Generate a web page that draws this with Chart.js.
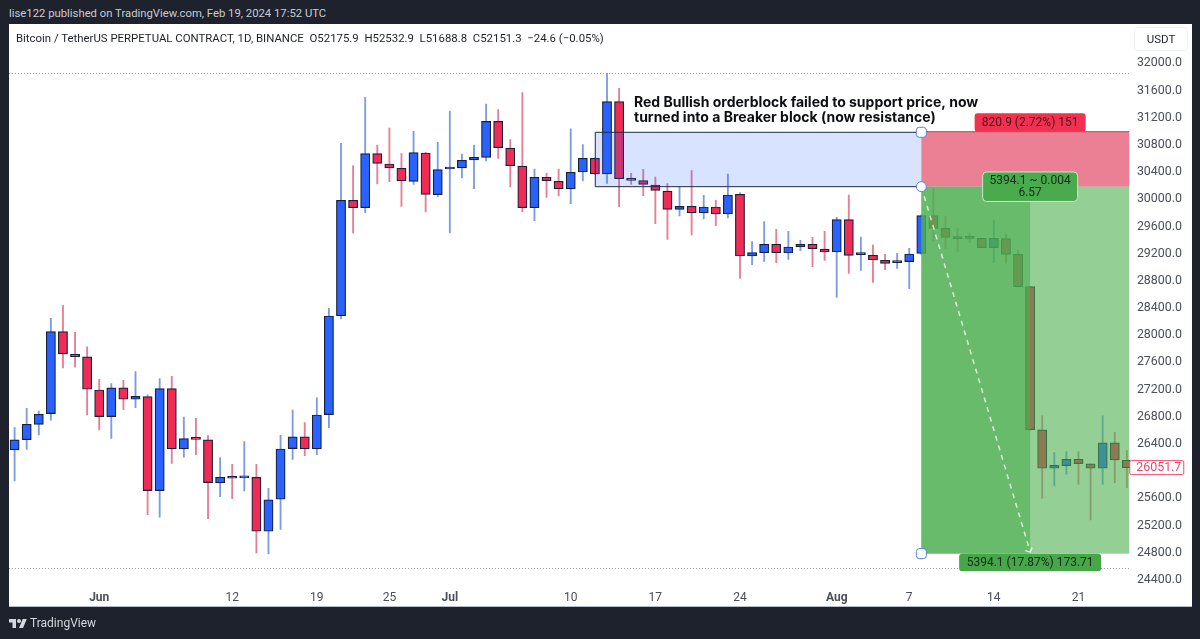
<!DOCTYPE html>
<html>
<head>
<meta charset="utf-8">
<title>BTCUSDT.P 1D</title>
<script src="https://cdn.jsdelivr.net/npm/chart.js@4"></script>
<style>
    html, body { margin: 0; padding: 0; background: #1e222d; width: 1200px; height: 639px; overflow: hidden; }
    .byline { position: absolute; left: 9px; top: 6px; color: #c9ccd3; font: 11.3px Roboto, sans-serif; line-height: 16px; white-space: nowrap; }
    .panel { position: absolute; left: 9px; top: 24px; width: 1183px; height: 583px; background: #fff; border-bottom: 1px solid #b8bcc4; box-sizing: border-box; }
    canvas { position: absolute; left: 0; top: 0; }
    .legend { position: absolute; left: 16px; top: 30px; color: #1d2026; font: 11.4px Roboto, sans-serif; line-height: 16px; white-space: pre; }
    .currency { position: absolute; left: 1134px; top: 27px; width: 52px; height: 22px; border: 1px solid #f0f1f3; border-radius: 4px; color: #1d2026; font: 11.5px Roboto, sans-serif; line-height: 22px; text-align: center; }
    .brand { position: absolute; left: 30px; top: 614px; color: #d5d8de; font: 12px Roboto, sans-serif; line-height: 18px; }
    .brand-logo { position: absolute; left: 9px; top: 617px; }
</style>
</head>
<body>
<div class="byline">lise122 published on TradingView.com, Feb 19, 2024 17:52 UTC</div>
<div class="panel"></div>
<canvas id="chart" width="1200" height="639"></canvas>
<div class="legend">Bitcoin / TetherUS PERPETUAL CONTRACT, 1D, BINANCE  O52175.9  H52532.9  L51688.8  C52151.3  −24.6 (−0.05%)</div>
<div class="currency">USDT</div>
<svg class="brand-logo" width="18" height="12" viewBox="0 0 36 24"><path fill="#d5d8de" d="M14 22H7V11H0V4h14v18zM28 22h-8l7.5-18h8L28 22z"/><circle fill="#d5d8de" cx="20" cy="8" r="4"/></svg>
<div class="brand">TradingView</div>
<script>
    const categories = [
        "May 25", "May 26", "May 27", "May 28", "May 29", "May 30", "May 31",
        "Jun 1", "Jun 2", "Jun 3", "Jun 4", "Jun 5", "Jun 6", "Jun 7", "Jun 8", "Jun 9", "Jun 10",
        "Jun 11", "Jun 12", "Jun 13", "Jun 14", "Jun 15", "Jun 16", "Jun 17", "Jun 18", "Jun 19", "Jun 20",
        "Jun 21", "Jun 22", "Jun 23", "Jun 24", "Jun 25", "Jun 26", "Jun 27", "Jun 28", "Jun 29", "Jun 30",
        "Jul 1", "Jul 2", "Jul 3", "Jul 4", "Jul 5", "Jul 6", "Jul 7", "Jul 8", "Jul 9", "Jul 10",
        "Jul 11", "Jul 12", "Jul 13", "Jul 14", "Jul 15", "Jul 16", "Jul 17", "Jul 18", "Jul 19", "Jul 20",
        "Jul 21", "Jul 22", "Jul 23", "Jul 24", "Jul 25", "Jul 26", "Jul 27", "Jul 28", "Jul 29", "Jul 30", "Jul 31",
        "Aug 1", "Aug 2", "Aug 3", "Aug 4", "Aug 5", "Aug 6", "Aug 7", "Aug 8", "Aug 9", "Aug 10",
        "Aug 11", "Aug 12", "Aug 13", "Aug 14", "Aug 15", "Aug 16", "Aug 17", "Aug 18", "Aug 19", "Aug 20",
        "Aug 21", "Aug 22", "Aug 23", "Aug 24", "Aug 25"
    ];

    const opens = [
        26312, 26464, 26689, 26846, 28052, 27719, 27680, 27194, 26802, 27224,
        27057, 27096, 25713, 27214, 26326, 26478, 26459, 25826, 25900, 25900,
        25909, 25115, 25586, 26331, 26503, 26326, 26831, 28287, 29984, 29876,
        30671, 30519, 30455, 30264, 30681, 30068, 30445, 30460, 30578, 30617,
        31146, 30754, 30489, 29876, 30323, 30264, 30151, 30401, 30602, 30372,
        31436, 30288, 30273, 30210, 30121, 29852, 29896, 29798, 29886, 29783,
        30072, 29165, 29214, 29337, 29209, 29298, 29337, 29268, 29224, 29700,
        29185, 29175, 29101, 29067, 29082, 29204, 29759, 29572, 29440, 29440,
        29425, 29288, 29420, 29190, 28714, 26606, 26042, 26081, 26174, 26106,
        26042, 26415, 26160
    ];
    const highs = [
        26640, 26925, 26885, 28249, 28440, 28043, 27827, 27351, 27288, 27337,
        27464, 27121, 27361, 27395, 26797, 26777, 26522, 26199, 26101, 26434,
        26101, 25748, 26527, 26900, 26714, 27077, 28396, 30823, 30494, 31500,
        30798, 31048, 30671, 31000, 30690, 30837, 31298, 30666, 30798, 31401,
        31318, 30877, 31568, 30445, 30381, 30445, 31038, 30803, 30610, 31853,
        31632, 30381, 30440, 30327, 30229, 30185, 30421, 30058, 29984, 30372,
        30097, 29376, 29670, 29557, 29528, 29396, 29440, 29528, 29734, 30063,
        29445, 29327, 29190, 29204, 29278, 29770, 30161, 29744, 29572, 29499,
        29425, 29695, 29489, 29254, 28720, 26812, 26272, 26287, 26287, 26106,
        26812, 26572, 26302
    ];
    const lows = [
        25855, 26321, 26532, 26748, 27518, 27528, 26827, 26606, 26483, 26905,
        26934, 25360, 25321, 26115, 26204, 26243, 25301, 25625, 25596, 25708,
        24796, 24782, 25144, 26174, 26228, 26243, 26640, 28238, 29504, 29803,
        30224, 30259, 29896, 30220, 29812, 30038, 29504, 30313, 30156, 30563,
        30602, 30180, 29817, 29685, 30028, 30048, 29935, 30269, 30365, 30234,
        29891, 30220, 30053, 29641, 29410, 29754, 29474, 29710, 29611, 29724,
        28837, 29038, 29087, 29067, 29116, 29244, 29008, 29101, 28557, 28910,
        28954, 28778, 28964, 28984, 28685, 29190, 29391, 29278, 29229, 29362,
        29288, 29067, 29058, 28714, 26600, 25601, 25782, 25954, 25806, 25282,
        25806, 25831, 25757
    ];
    const closes = [
        26459, 26689, 26836, 28052, 27724, 27685, 27204, 26802, 27224, 27057,
        27101, 25713, 27214, 26326, 26478, 26468, 25831, 25909, 25895, 25905,
        25115, 25576, 26326, 26503, 26326, 26826, 28283, 29984, 29876, 30671,
        30529, 30460, 30269, 30686, 30072, 30435, 30455, 30573, 30617, 31146,
        30759, 30494, 29876, 30323, 30273, 30151, 30396, 30602, 30372, 31436,
        30303, 30278, 30220, 30131, 29852, 29896, 29798, 29886, 29783, 30063,
        29165, 29214, 29337, 29214, 29298, 29337, 29273, 29224, 29700, 29175,
        29190, 29106, 29057, 29072, 29195, 29759, 29572, 29440, 29420, 29425,
        29288, 29425, 29190, 28714, 26611, 26042, 26086, 26174, 26111, 26042,
        26415, 26165, 26052
    ];

    const priceTicks = [
        32000, 31600, 31200, 30800, 30400, 30000, 29600, 29200, 28800, 28400,
        28000, 27600, 27200, 26800, 26400, 25600, 25200, 24800, 24400
    ];
    const dateTickIndex = [7, 18, 25, 31, 36, 46, 53, 60, 68, 74, 81, 88];
    const dateTickText = ["Jun", "12", "19", "25", "Jul", "10", "17", "24", "Aug", "7", "14", "21"];
    const monthTicks = ["Jun", "Jul", "Aug"];

    const chartHigh = 31857;
    const chartLow = 24574;
    const lastPrice = 26051.7;

    const breakerBlock = { from: 48.03, to: 75, top: 30985, bottom: 30185 };
    const position = { from: 75, mid: 84, to: 92.2, stop: 30994, entry: 30185, target: 24786 };

    const annotationLines = [
        "Red Bullish orderblock failed to support price, now",
        "turned into a Breaker block (now resistance)"
    ];
    const stopLabel = "820.9 (2.72%) 151";
    const riskLabel = ["5394.1 ~ 0.004", "6.57"];
    const targetLabel = "5394.1 (17.87%) 173.71";

    const colors = {
        up: "#2962ff",
        down: "#f02c56",
        upWick: "#7c9ce4",
        downWick: "#e47f95",
        border: "#17203a",
        ink: "#131722",
        muted: "#4a4e57"
    };

    function isUp(i) {
        return closes[i] >= opens[i];
    }

    function pill(ctx, x, y, w, h, r, fill, stroke) {
        ctx.beginPath();
        ctx.roundRect(x, y, w, h, r);
        ctx.fillStyle = fill;
        ctx.fill();
        if (stroke) {
            ctx.strokeStyle = stroke;
            ctx.lineWidth = 1;
            ctx.stroke();
        }
    }

    function handle(ctx, x, y, rounded) {
        ctx.beginPath();
        if (rounded) {
            ctx.roundRect(x - 5, y - 5, 10, 10, 3);
        } else {
            ctx.arc(x, y, 5, 0, Math.PI * 2);
        }
        ctx.fillStyle = "#fff";
        ctx.fill();
        ctx.strokeStyle = "#5b7fd8";
        ctx.lineWidth = 1;
        ctx.stroke();
    }

    const dottedLines = {
        id: "dottedLines",
        beforeDatasetsDraw(chart) {
            const { ctx, scales: { x, y } } = chart;
            ctx.save();
            ctx.strokeStyle = "#9a9ea6";
            ctx.lineWidth = 1;
            ctx.setLineDash([1, 2]);
            [chartHigh, chartLow].forEach(price => {
                const py = Math.round(y.getPixelForValue(price)) + 0.5;
                ctx.beginPath();
                ctx.moveTo(9, py);
                ctx.lineTo(x.getPixelForValue(position.to), py);
                ctx.stroke();
            });
            ctx.restore();
        }
    };

    const drawings = {
        id: "drawings",
        afterDatasetsDraw(chart) {
            const { ctx, scales: { x, y } } = chart;
            const left = x.getPixelForValue(position.from);
            const mid = x.getPixelForValue(position.mid);
            const right = x.getPixelForValue(position.to);
            const stopY = y.getPixelForValue(position.stop);
            const entryY = y.getPixelForValue(position.entry);
            const targetY = y.getPixelForValue(position.target);
            const boxLeft = x.getPixelForValue(breakerBlock.from);
            const boxTop = y.getPixelForValue(breakerBlock.top);
            const boxBottom = y.getPixelForValue(breakerBlock.bottom);

            ctx.save();

            // breaker block
            ctx.fillStyle = "rgba(41, 98, 255, .18)";
            ctx.fillRect(boxLeft, boxTop, left - boxLeft, boxBottom - boxTop);
            ctx.strokeStyle = "#1f2a44";
            ctx.lineWidth = 1;
            ctx.beginPath();
            ctx.moveTo(left, boxTop);
            ctx.lineTo(boxLeft, boxTop);
            ctx.lineTo(boxLeft, boxBottom);
            ctx.lineTo(left, boxBottom);
            ctx.stroke();

            // long position zones
            ctx.fillStyle = "rgba(222, 50, 82, .62)";
            ctx.fillRect(left, stopY, right - left, entryY - stopY);
            ctx.strokeStyle = "#c8405c";
            ctx.beginPath();
            ctx.moveTo(left, stopY);
            ctx.lineTo(right, stopY);
            ctx.stroke();
            ctx.fillStyle = "rgba(76, 175, 80, .6)";
            ctx.fillRect(left, entryY, right - left, targetY - entryY);
            ctx.fillStyle = "rgba(76, 175, 80, .62)";
            ctx.fillRect(left, entryY, mid - left, targetY - entryY);

            // entry to target path
            ctx.strokeStyle = "rgba(255, 255, 255, .75)";
            ctx.lineWidth = 1.5;
            ctx.setLineDash([5, 5]);
            ctx.beginPath();
            ctx.moveTo(left, entryY);
            ctx.lineTo(mid, targetY - 2);
            ctx.stroke();
            ctx.setLineDash([]);
            ctx.beginPath();
            ctx.moveTo(mid - 5, targetY - 3);
            ctx.lineTo(mid, targetY - 1.5);
            ctx.lineTo(mid + 2, targetY - 6);
            ctx.stroke();

            // labels
            ctx.textAlign = "center";
            ctx.textBaseline = "middle";
            ctx.font = "12px Roboto, sans-serif";

            pill(ctx, mid - 55.5, stopY - 18.4, 111, 18.4, 3, "#f23150");
            ctx.fillStyle = "#4a0f1c";
            ctx.fillText(stopLabel, mid, stopY - 8.8);

            pill(ctx, mid - 47.5, entryY - 14.7, 95, 29.5, 4, "#4aab4e", "#c8eac8");
            ctx.fillStyle = "#0f2e12";
            ctx.fillText(riskLabel[0], mid, entryY - 5.5);
            ctx.fillText(riskLabel[1], mid, entryY + 6);

            pill(ctx, mid - 71, targetY, 142, 17.6, 3, "#47a64a");
            ctx.fillStyle = "#0f2e12";
            ctx.fillText(targetLabel, mid, targetY + 9.2);

            handle(ctx, left, boxTop, true);
            handle(ctx, left, boxBottom, false);
            handle(ctx, left, targetY, true);

            // last price tag
            const lastY = y.getPixelForValue(lastPrice);
            ctx.fillStyle = "#fff";
            ctx.strokeStyle = "#ee4d6d";
            ctx.lineWidth = 1;
            ctx.beginPath();
            ctx.roundRect(right + 0.5, lastY - 7, 54, 14, 1.5);
            ctx.fill();
            ctx.stroke();
            ctx.fillStyle = "#e8476a";
            ctx.textAlign = "left";
            ctx.font = "12.4px Roboto, sans-serif";
            ctx.fillText("26051.7", right + 7, lastY + 0.5);

            // note
            ctx.fillStyle = "#0c0e12";
            ctx.font = "700 14px Inter, sans-serif";
            ctx.textBaseline = "alphabetic";
            ctx.fillText(annotationLines[0], 634, 107);
            ctx.fillText(annotationLines[1], 634, 122);

            ctx.restore();
        }
    };

    new Chart(document.getElementById("chart"), {
        type: "bar",
        data: {
            labels: categories,
            datasets: [
                {
                    data: categories.map((_, i) => [opens[i], closes[i]]),
                    backgroundColor: categories.map((_, i) => isUp(i) ? colors.up : colors.down),
                    borderColor: colors.border,
                    borderWidth: 1.2,
                    borderSkipped: false,
                    barThickness: 9.2,
                    minBarLength: 2,
                    grouped: false,
                    clip: { left: 0, top: 0, right: -3, bottom: 0 }
                },
                {
                    data: categories.map((_, i) => [lows[i], highs[i]]),
                    backgroundColor: categories.map((_, i) => isUp(i) ? colors.upWick : colors.downWick),
                    borderWidth: 0,
                    barThickness: 1.2,
                    grouped: false
                }
            ]
        },
        options: {
            responsive: false,
            animation: false,
            layout: { padding: { left: 8.55, right: 8, top: 50, bottom: 32 } },
            plugins: { legend: { display: false }, tooltip: { enabled: false } },
            scales: {
                x: {
                    offset: true,
                    grid: { display: false, drawTicks: false },
                    border: { display: false },
                    afterBuildTicks: scale => {
                        scale.ticks = dateTickIndex.map(value => ({ value }));
                    },
                    afterFit: scale => {
                        scale.height = 24;
                    },
                    ticks: {
                        autoSkip: false,
                        maxRotation: 0,
                        padding: 8,
                        color: colors.muted,
                        font: ctx => {
                            const text = dateTickText[dateTickIndex.indexOf(ctx.tick.value)];
                            return monthTicks.includes(text)
                                ? { family: "Roboto", size: 12, weight: "bold" }
                                : { family: "Roboto", size: 12 };
                        },
                        callback: value => dateTickText[dateTickIndex.indexOf(value)]
                    }
                },
                y: {
                    position: "right",
                    min: 24354,
                    max: 32196,
                    grid: { display: false, drawTicks: false },
                    border: { display: false },
                    afterBuildTicks: scale => {
                        scale.ticks = priceTicks.map(value => ({ value }));
                    },
                    afterFit: scale => {
                        scale.width = 59.1;
                    },
                    ticks: {
                        padding: 4,
                        color: colors.muted,
                        font: { family: "Roboto", size: 12.4 },
                        callback: value => value.toFixed(1)
                    }
                }
            }
        },
        plugins: [dottedLines, drawings]
    });
</script>
</body>
</html>
